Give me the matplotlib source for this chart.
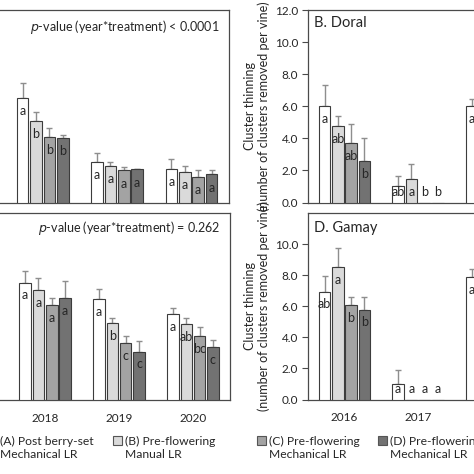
import numpy as np
import matplotlib
matplotlib.use("Agg")
import matplotlib.pyplot as plt
from matplotlib.patches import Patch, Rectangle
from matplotlib.legend_handler import HandlerPatch

plt.rcParams['font.family'] = ['Lato', 'DejaVu Sans']

treatments = ["(A) Post berry-set\nMechanical LR", "(B) Pre-flowering\nManual LR",
              "(C) Pre-flowering\nMechanical LR", "(D) Pre-flowering\nMechanical LR"]
colors = ["#ffffff", "#dadada", "#a3a3a3", "#727272"]

years_left = ["2018", "2019", "2020"]
years_right = ["2016", "2017", "2018"]

# Panel A (top-left): rows = years, cols = treatments
a_vals = [[6.50, 5.10, 4.10, 4.04], [2.55, 2.30, 2.00, 2.06], [2.10, 1.93, 1.60, 1.75]]
a_err = [[0.97, 0.56, 0.57, 0.18], [0.55, 0.25, 0.24, 0.04], [0.62, 0.37, 0.45, 0.25]]
a_let = [["a", "b", "b", "b"], ["a", "a", "a", "a"], ["a", "a", "a", "a"]]
a_text = "$\\it{p}$-value (year*treatment) < 0.0001"

# Panel B. Doral (top-right)
b_vals = [[6.00, 4.77, 3.73, 2.60], [1.00, 1.45, 0.0, 0.0], [6.00, np.nan, np.nan, np.nan]]
b_err = [[1.30, 0.63, 1.14, 1.40], [0.65, 0.97, 0.0, 0.0], [0.46, np.nan, np.nan, np.nan]]
b_let = [["a", "ab", "ab", "b"], ["ab", "a", "b", "b"], ["a", "", "", ""]]

# Panel C (bottom-left)
c_vals = [[7.53, 7.04, 6.08, 6.53], [6.45, 4.93, 3.66, 3.11], [5.49, 4.85, 4.10, 3.38]]
c_err = [[0.72, 0.76, 0.49, 1.11], [0.70, 0.32, 0.47, 0.66], [0.40, 0.38, 0.56, 0.45]]
c_let = [["a", "a", "a", "a"], ["a", "b", "c", "c"], ["a", "ab", "bc", "c"]]
c_text = "$\\it{p}$-value (year*treatment) = 0.262"

# Panel D. Gamay (bottom-right)
d_vals = [[6.94, 8.52, 6.06, 5.78], [0.99, 0.0, 0.0, 0.0], [7.87, np.nan, np.nan, np.nan]]
d_err = [[1.01, 1.22, 0.56, 0.84], [0.90, 0.0, 0.0, 0.0], [0.52, np.nan, np.nan, np.nan]]
d_let = [["ab", "a", "b", "b"], ["a", "a", "a", "a"], ["a", "", "", ""]]

yticks_b = [0, 2, 4, 6, 8, 10, 12]
yticks_d = [0, 2, 4, 6, 8, 10]

ylabel = "Cluster thinning\n(number of clusters removed per vine)"

W = H = 474
fig = plt.figure(figsize=(4.74, 4.74), dpi=100)

def px_rect(l, t, r, b):
    return [l / W, 1 - b / H, (r - l) / W, (b - t) / H]

spine_c = "#4a4a4a"
txt_c = "#262626"
slot = 0.18
bw = 0.155

def draw(ax, vals, errs, lets, xlim, yticks):
    vals = np.array(vals, dtype=float)
    errs = np.array(errs, dtype=float)
    x = np.arange(vals.shape[0])
    for j in range(4):
        xs = x + (j - 1.5) * slot
        h = vals[:, j]
        ax.bar(xs, h, width=bw, color=colors[j], edgecolor="#3c3c3c", linewidth=0.8, zorder=3)
        e = errs[:, j]
        m = np.isfinite(e) & (e > 0)
        ax.errorbar(xs[m], h[m], yerr=[np.zeros(m.sum()), e[m]], fmt="none",
                    ecolor="#8e8e8e", elinewidth=1.0, capsize=2.2, capthick=1.0, zorder=2)
        for k in range(len(xs)):
            if lets[k][j]:
                hv = 0 if not np.isfinite(h[k]) else h[k]
                ax.text(xs[k], max(hv - 0.82, 0.68), lets[k][j], ha="center", va="center",
                        fontsize=9, color=txt_c, zorder=4)
    ax.set_xlim(*xlim)
    ax.set_ylim(0, 12)
    ax.set_yticks(yticks)
    ax.set_yticklabels([f"{v:.1f}" for v in yticks])
    ax.tick_params(axis="y", direction="out", length=4, width=0.8, color=spine_c,
                   labelsize=8.5, pad=3, labelcolor=txt_c)
    ax.tick_params(axis="x", length=0, pad=9, labelsize=8.5, labelcolor=txt_c)
    for s in ax.spines.values():
        s.set_color(spine_c)
        s.set_linewidth(0.9)
    ax.set_xticks(x)

# left panels: their y-axis lies beyond the left edge of the image (not shown)
axA = fig.add_axes(px_rect(-80, 10, 228.75, 202.5))
draw(axA, a_vals, a_err, a_let, (-1.65, 2.5), yticks_b)
axA.set_xticklabels([])
axA.tick_params(axis="y", labelleft=False)
axA.text(0.97, 0.91, a_text, transform=axA.transAxes, ha="right", va="center", fontsize=9, color=txt_c)

axB = fig.add_axes(px_rect(307.75, 10, 528.25, 202.5))
draw(axB, b_vals, b_err, b_let, (-0.5, 2.5), yticks_b)
axB.set_xticklabels([])
axB.text(0.03, 0.93, "B. Doral", transform=axB.transAxes, ha="left", va="center", fontsize=10.5, color=txt_c)
axB.text(-0.23, 0.5, ylabel, transform=axB.transAxes, rotation=90, ha="center", va="center",
         multialignment="center", fontsize=9, color=txt_c, linespacing=1.2)

axC = fig.add_axes(px_rect(-78, 213, 230, 400))
draw(axC, c_vals, c_err, c_let, (-1.665, 2.5), yticks_b)
axC.set_xticklabels(years_left)
axC.tick_params(axis="y", labelleft=False)
axC.text(0.97, 0.92, c_text, transform=axC.transAxes, ha="right", va="center", fontsize=9, color=txt_c)

axD = fig.add_axes(px_rect(307.75, 213, 528.25, 399.5))
draw(axD, d_vals, d_err, d_let, (-0.5, 2.5), yticks_d)
axD.set_xticklabels(years_right)
axD.text(0.03, 0.92, "D. Gamay", transform=axD.transAxes, ha="left", va="center", fontsize=10.5, color=txt_c)
axD.text(-0.23, 0.5, ylabel, transform=axD.transAxes, rotation=90, ha="center", va="center",
         multialignment="center", fontsize=9, color=txt_c, linespacing=1.2)

def top_box(legend, orig_handle, xdescent, ydescent, width, height, fontsize):
    return Rectangle((-xdescent, -ydescent + 5.4), width, height)

box_x = [-12, 113, 257, 378]
for j in range(4):
    h = Patch(facecolor=colors[j], edgecolor="#555555", linewidth=0.8)
    fig.legend([h], [treatments[j]], loc="upper left", bbox_to_anchor=(box_x[j] / W, 1 - 436 / H),
               frameon=False, fontsize=8.7, handlelength=0.72, handleheight=0.72, handletextpad=0.3,
               borderpad=0, borderaxespad=0, labelspacing=0, labelcolor=txt_c,
               handler_map={Patch: HandlerPatch(patch_func=top_box)})

fig.savefig("out.png", dpi=100)
